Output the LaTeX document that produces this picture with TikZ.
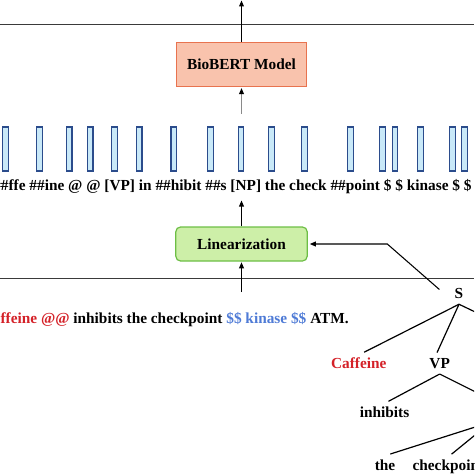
\documentclass[tikz,border=0pt]{standalone}
\usepackage{fontspec}
\setmainfont{Liberation Serif}
\usepackage{xcolor}
\definecolor{cModelFill}{HTML}{F9C3AD}
\definecolor{cModelDraw}{HTML}{E8734F}
\definecolor{cLinFill}{HTML}{CDEFA8}
\definecolor{cLinDraw}{HTML}{6DBE45}
\definecolor{cTokFill}{HTML}{C9E9F8}
\definecolor{cTokDraw}{HTML}{2B4C8C}
\definecolor{cRed}{HTML}{D42128}
\definecolor{cBlue}{HTML}{4F7BD6}
\definecolor{cLine}{HTML}{3A3A3A}
\definecolor{cGray}{HTML}{8A8A8A}
\usepackage{tikz}
\usetikzlibrary{positioning,arrows.meta}
\tikzset{
  node-model/.style={draw=cModelDraw,fill=cModelFill,line width=0.9pt,
    minimum width=98pt,minimum height=33.5pt,font=\bfseries\fontsize{11.5}{13}\selectfont},
  node-linear/.style={draw=cLinDraw,fill=cLinFill,line width=0.9pt,rounded corners=3.5pt,
    minimum width=98.5pt,minimum height=25.5pt,font=\bfseries\fontsize{11.5}{13}\selectfont},
  node-token/.style={draw=cTokDraw,fill=cTokFill,line width=0.9pt,
    minimum width=4.3pt,minimum height=33pt,inner sep=0pt},
  node-word/.style={font=\bfseries\fontsize{11.5}{13}\selectfont,inner sep=4pt},
  arrow/.style={-{Triangle[length=4.5pt,width=3.6pt]},line width=0.8pt,draw=black},
  arrow-gray/.style={-{Triangle[length=4.5pt,width=3.6pt,color=black]},line width=0.8pt,draw=cGray},
  sep-line/.style={line width=0.8pt,draw=cLine},
  tree-edge/.style={line width=0.9pt,draw=black},
}
\begin{document}
\begin{tikzpicture}[x=0.75pt,y=-0.75pt]
  \useasboundingbox (0,0) rectangle (474,474);
  \clip (0,0) rectangle (474,474);
  % separators
  \draw[sep-line] (0,24.5) -- (474,24.5);
  \draw[sep-line] (0,278.5) -- (474,278.5);
  % model and tokens
  \node[node-model] (model) at (241.5,64.5) {BioBERT Model};
  \foreach \x [count=\i] in {5.5,39.7,69.2,90.2,114.7,139.2,173.8,210.7,241,271.3,%
      304.7,350.3,382.7,395,420.7,452.3,464.7}
    \node[node-token] (tok-\i) at (\x,149) {};
  \node[node-word,anchor=base west,inner sep=0pt] (pieces) at (-7,190)
    {\#\#ffe \#\#ine @ @ [VP] in \#\#hibit \#\#s [NP] the check \#\#point \$ \$ kinase \$ \$};
  \node[node-linear] (lin) at (241.5,244) {Linearization};
  \node[node-word,anchor=base east,inner sep=0pt] (sent) at (349,323)
    {\textcolor{cRed}{Caffeine @@} inhibits the checkpoint \textcolor{cBlue}{\$\$ kinase \$\$} ATM.};
  \coordinate (top-out) at (241.5,0.5);
  \coordinate (model-in) at (241.5,114);
  \coordinate (lin-out) at (241.5,200.5);
  \coordinate (lin-in) at (241.5,292);
  \coordinate (bend) at (387.3,244);
  \draw[arrow] (model.north) -- (top-out);
  \draw[arrow-gray,shorten >=0.5pt] (model-in) -- (model.south);
  \draw[arrow] (lin.north) -- (lin-out);
  \draw[arrow,shorten >=0.5pt] (lin-in) -- (lin.south);
  % parse tree
  \node[node-word] (s)   at (459,293.5) {S};
  \node[node-word,text=cRed] (caf) at (358.8,363.3) {Caffeine};
  \node[node-word] (vp)  at (439.7,363.3) {VP};
  \node[node-word] (inh) at (384.5,412.3) {inhibits};
  \node[node-word] (the) at (385,465) {the};
  \node[node-word,anchor=west] (chk) at (407,466.7) {checkpoint};
  \coordinate (s-right) at (560,352.5);
  \coordinate (np-top) at (495,401.7);
  \coordinate (np-bot) at (491,422);
  \draw[arrow,shorten >=1.5pt] ([xshift=-7.3pt,yshift=3pt]s.west) -- (bend) -- (lin.east);
  \draw[tree-edge] (s.south) -- ([xshift=4pt]caf.north);
  \draw[tree-edge] (s.south) -- ([xshift=-2pt]vp.north);
  \draw[tree-edge] (s.south) -- (s-right);
  \draw[tree-edge] (vp.south) -- ([xshift=3pt]inh.north);
  \draw[tree-edge] (vp.south) -- (np-top);
  \draw[tree-edge] (np-bot) -- ([xshift=4pt]the.north);
  \draw[tree-edge] (np-bot) -- ([xshift=2.4pt]chk.north);
\end{tikzpicture}
\end{document}
